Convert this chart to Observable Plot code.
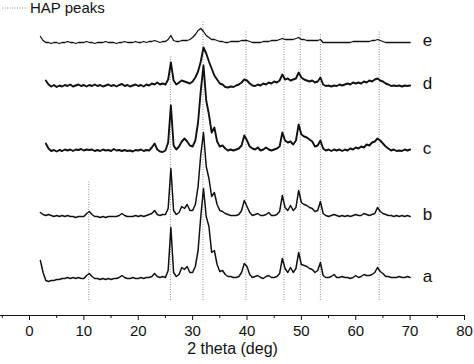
<!DOCTYPE html>
<html><head><meta charset="utf-8">
<script src="https://cdn.jsdelivr.net/npm/d3@7"></script>
<script src="https://cdn.jsdelivr.net/npm/@observablehq/plot@0.6"></script>
<style>
body{margin:0;background:#fff;font-family:"Liberation Sans",Arial,sans-serif;}
#legend{position:relative;height:18px;width:474px;}
#legend svg{position:absolute;left:0;top:0;}
#legend span{position:absolute;left:30px;top:0;font-size:15px;line-height:16px;color:#111;}
</style></head><body>
<div id="legend"><svg width="30" height="18"><line x1="2" x2="27" y1="8" y2="8" stroke="#8a8a8a" stroke-dasharray="1,1.5"/></svg><span>HAP peaks</span></div>
<div id="chart"></div>
<script>
// 2θ sampling grid of the scans (deg)
const thetaStart = 2, thetaStep = 0.5;
const sampleNames = ["a", "b", "c", "d", "e"];
// vertical stacking offset of each pattern (a.u.)
const baselineOffsets = [37, 99, 165, 230, 273];
// relative intensities (a.u.), one value every 0.5° from 2° to 70°
const intensityA = [
 18,6,-2,-3,-2,-2,-1,-1,0,0,
 1,0,1,0,1,0,0,3,5,2,
 0,0,-1,0,-1,0,-1,0,0,1,
 3,1,0,0,1,0,0,1,0,1,
 1,2,5,2,1,2,1,8,51,6,
 2,4,11,9,12,6,6,12,28,62,
 90,62,52,26,28,14,7,8,4,2,
 2,1,1,2,6,15,12,4,1,2,
 3,1,0,2,3,1,1,2,5,20,
 10,6,11,6,10,26,14,13,12,10,
 9,6,8,16,3,1,1,2,4,1,
 1,2,1,1,0,1,3,1,2,4,
 3,3,4,6,11,7,5,2,2,1,
 1,1,2,1,1,2,1];
const intensityB = [
 4,2,1,2,1,0,1,0,1,0,
 1,0,0,-1,0,0,0,3,5,2,
 0,0,-1,0,-1,0,0,0,0,1,
 3,1,0,0,0,1,0,1,0,1,
 2,3,6,2,1,2,2,8,48,6,
 2,4,10,8,12,6,6,12,30,62,
 84,50,38,20,24,12,6,5,3,2,
 1,1,1,2,6,16,10,4,1,2,
 3,1,1,2,4,1,1,2,5,21,
 9,6,11,6,9,26,14,12,11,9,
 8,5,6,15,3,1,0,1,2,1,
 0,1,0,1,0,1,2,1,1,3,
 2,1,2,3,9,5,3,2,1,1,
 0,1,0,1,0,1,0];
const intensityC = [
 null,null,7,2,-0.5,0.5,-1,0.5,-0.5,1,
 0,1,-0.5,1,0.5,1.5,0,1,0.5,1,
 -0.5,0.5,-0.5,1,0,0.5,-0.5,1.5,0,0.5,
 -0.5,0.5,-0.5,0,-1,0.5,0,1,-0.5,0.5,
 0,3,7,1,-1,-1.5,0,8,45,5,
 1,4,9,12,9,5,4,10,28,60,
 85,50,36,18,23,9,4,5,2,0,
 1,0,1,2,5,15,10,4,2,1,
 3,0,1,3,1,0,1,2,4,18,
 10,8,9,6,10,26,16,14,13,11,
 9,4,5,10,2,0,1,-0.5,1,0,
 1,-0.5,1,0,2,1,3,2,4,3,
 6,5,8,9,12,10,7,4,2,0,
 1,-0.5,0,-0.5,1,0,1];
const intensityD = [
 null,null,5,1,-1,0.5,-1.5,0,-1,0.5,
 -0.5,1,-1,0,1,-0.5,0.5,-1,0.5,-0.5,
 1,-0.5,0.5,-1,0,1,-0.5,0.5,-1,0.5,
 1.5,-0.5,0.5,-1,0,1,-0.5,0.5,-1,1,
 0,2,1,3,1,2,1,6,23,5,
 1,3,5,4,3,2,4,8,14,24,
 38,32,24,17,10,6,2,1,-1.5,-2,
 -1,-1.5,0,1,3,6,5,2,0,-0.5,
 1,0,2,1,3,2,4,3,5,11,
 6,7,5,6,7,13,8,6,5,4,
 5,3,4,8,1,-0.5,0,-1,0,-0.5,
 1,0,1,2,1,3,2,3,2,4,
 3,5,4,6,7,5,4,2,1,-0.5,
 0,-0.5,0,-1,0,-0.5,0];
const intensityE = [
 6,2,0,0,-1,0,0,-1,0,0,
 1,0,0,-1,0,0,0,1,0,0,
 -1,0,0,0,1,0,0,0,-1,0,
 0,1,0,0,0,1,0,0,1,0,
 1,1,2,1,0,1,1,3,7,2,
 1,1,2,2,2,3,5,8,12,14,
 11,7,5,3,3,2,1,1,0,0,
 1,1,1,1,2,2,2,1,0,0,
 0,0,1,1,1,2,2,2,3,4,
 3,3,3,3,4,5,3,3,2,2,
 2,2,2,3,0,0,0,0,0,0,
 0,0,0,0,0,1,1,1,1,1,
 1,1,2,2,3,2,1,0,0,0,
 0,0,0,0,0,0,0];
const seriesValues = [intensityA, intensityB, intensityC, intensityD, intensityE];
// drawn line weight per pattern (noisier scans look heavier)
const lineWeights = [1.5, 1.5, 1.9, 1.9, 1.3];
// HAP reference peak positions (2θ) and the height their guide lines reach
const hapPeaks = [10.9, 25.9, 31.9, 39.8, 46.8, 49.8, 53.5, 64.3];
const hapPeakTops = [135, 260, 295, 285, 282, 287, 282, 285];
const hapPeakBottom = 15;
// axis ticks
const xTicks = [0, 10, 20, 30, 40, 50, 60, 70, 80];
const xMinorTicks = [-5, 5, 15, 25, 35, 45, 55, 65, 75];
const xLabel = "2 theta (deg)";
const labelTheta = 72.3;

const peakRows = hapPeaks.map((p, i) => ({theta: p, top: hapPeakTops[i]}));
const labelRows = sampleNames.map((n, k) => ({n, y: baselineOffsets[k] + 2}));
const lineMarks = sampleNames.map((name, k) => {
  const rows = seriesValues[k].map((v, i) => ({
    theta: thetaStart + i * thetaStep,
    intensity: v == null ? NaN : v + baselineOffsets[k]
  }));
  return Plot.line(rows, {x: "theta", y: "intensity", stroke: "#111", strokeWidth: lineWeights[k], strokeLinejoin: "round"});
});

const chart = Plot.plot({
  width: 474, height: 346,
  marginLeft: 0, marginRight: 10, marginTop: 0, marginBottom: 49,
  style: {fontFamily: "'Liberation Sans', Arial, sans-serif", color: "#111", background: "#fff"},
  x: {domain: [-5.333, 80]},
  y: {domain: [0, 297], axis: null},
  marks: [
    Plot.ruleX(peakRows, {x: "theta", y1: hapPeakBottom, y2: "top", stroke: "#8a8a8a", strokeWidth: 1, strokeDasharray: "1,1.5"}),
    ...lineMarks,
    Plot.text(labelRows, {x: labelTheta, y: "y", text: "n", textAnchor: "start", fontSize: 17, fill: "#111"}),
    Plot.ruleY([0], {stroke: "#111", strokeWidth: 1.2}),
    Plot.axisX(xTicks, {tickSize: 5, tickPadding: 5, fontSize: 15, label: null, stroke: "#111"}),
    Plot.axisX(xMinorTicks, {tickSize: 3, tickFormat: () => "", label: null, stroke: "#111"}),
    Plot.text([xLabel], {frameAnchor: "bottom", dy: 38, fontSize: 16, fill: "#111"})
  ]
});
document.getElementById("chart").appendChild(chart);
</script>
</body></html>
